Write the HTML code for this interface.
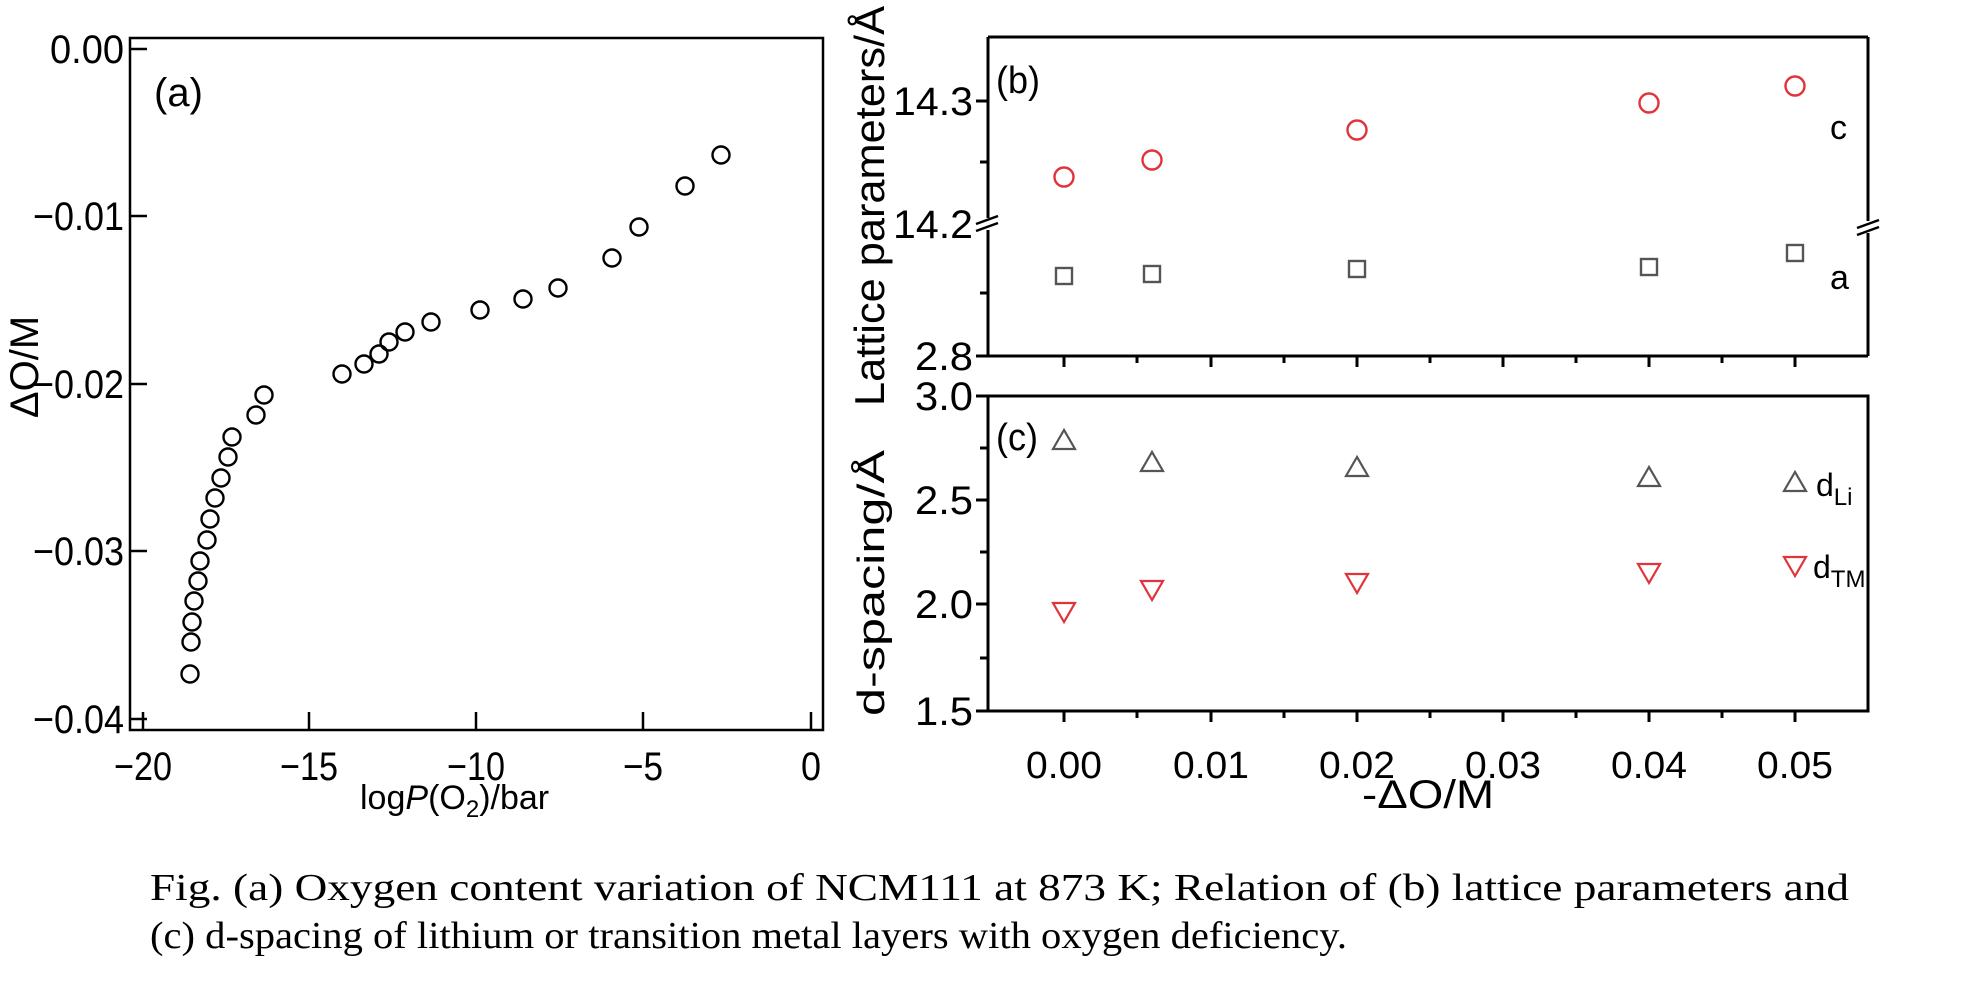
<!DOCTYPE html>
<html><head><meta charset="utf-8"><style>
html,body{margin:0;padding:0;background:#fff;}
svg{display:block;}
text{font-family:"Liberation Sans",sans-serif;}
</style></head><body>
<svg width="1986" height="989" viewBox="0 0 1986 989" xmlns="http://www.w3.org/2000/svg">
<!-- Panel a -->
<g stroke="#000" stroke-width="2.5" fill="none">
<rect x="130" y="38" width="693" height="692"/>
<line x1="130" y1="49" x2="147" y2="49"/>
<line x1="130" y1="216" x2="147" y2="216"/>
<line x1="130" y1="384" x2="147" y2="384"/>
<line x1="130" y1="551" x2="147" y2="551"/>
<line x1="130" y1="719" x2="147" y2="719"/>
<line x1="143" y1="730" x2="143" y2="712"/>
<line x1="309" y1="730" x2="309" y2="712"/>
<line x1="476" y1="730" x2="476" y2="712"/>
<line x1="643" y1="730" x2="643" y2="712"/>
<line x1="811" y1="730" x2="811" y2="712"/>
</g>
<g font-size="40" text-anchor="end" fill="#000">
<text x="124" y="63" textLength="74" lengthAdjust="spacingAndGlyphs">0.00</text>
<text x="124" y="230" textLength="91" lengthAdjust="spacingAndGlyphs">−0.01</text>
<text x="124" y="398" textLength="91" lengthAdjust="spacingAndGlyphs">−0.02</text>
<text x="124" y="565" textLength="91" lengthAdjust="spacingAndGlyphs">−0.03</text>
<text x="124" y="733" textLength="91" lengthAdjust="spacingAndGlyphs">−0.04</text>
</g>
<g font-size="40" text-anchor="middle" fill="#000">
<text x="143" y="780" textLength="58" lengthAdjust="spacingAndGlyphs">−20</text>
<text x="309" y="780" textLength="58" lengthAdjust="spacingAndGlyphs">−15</text>
<text x="476" y="780" textLength="58" lengthAdjust="spacingAndGlyphs">−10</text>
<text x="643" y="780" textLength="40" lengthAdjust="spacingAndGlyphs">−5</text>
<text x="811" y="780" textLength="20" lengthAdjust="spacingAndGlyphs">0</text>
</g>
<text x="154" y="106" font-size="40" fill="#000">(a)</text>
<text transform="translate(38,367) rotate(-90)" font-size="40" text-anchor="middle" fill="#000">ΔO/M</text>
<text x="360" y="809" font-size="34" fill="#000">log<tspan font-style="italic">P</tspan>(O<tspan font-size="24" dy="8">2</tspan><tspan dy="-8">)/bar</tspan></text>
<g stroke="#000" stroke-width="2.4" fill="none">
<circle cx="721" cy="155" r="8.5"/><circle cx="685" cy="186" r="8.5"/><circle cx="639" cy="227" r="8.5"/>
<circle cx="612" cy="258" r="8.5"/><circle cx="558" cy="288" r="8.5"/><circle cx="523" cy="299" r="8.5"/>
<circle cx="480" cy="310" r="8.5"/><circle cx="431" cy="322" r="8.5"/><circle cx="405" cy="332" r="8.5"/>
<circle cx="389" cy="342" r="8.5"/><circle cx="379" cy="354" r="8.5"/><circle cx="364" cy="364" r="8.5"/>
<circle cx="342" cy="374" r="8.5"/><circle cx="264" cy="395" r="8.5"/><circle cx="256" cy="415" r="8.5"/>
<circle cx="232" cy="437" r="8.5"/><circle cx="228" cy="457" r="8.5"/><circle cx="221" cy="478" r="8.5"/>
<circle cx="215" cy="498" r="8.5"/><circle cx="210" cy="519" r="8.5"/><circle cx="207" cy="540" r="8.5"/>
<circle cx="200" cy="561" r="8.5"/><circle cx="198" cy="581" r="8.5"/><circle cx="194" cy="601" r="8.5"/>
<circle cx="192" cy="622" r="8.5"/><circle cx="191" cy="642" r="8.5"/><circle cx="190" cy="674" r="8.5"/>
</g>

<!-- Panel b -->
<g stroke="#000" stroke-width="3" fill="none">
<line x1="988" y1="37" x2="1868" y2="37"/>
<line x1="988" y1="356" x2="1868" y2="356"/>
<line x1="988" y1="37" x2="988" y2="218"/>
<line x1="988" y1="230" x2="988" y2="356"/>
<line x1="1868" y1="37" x2="1868" y2="221"/>
<line x1="1868" y1="233" x2="1868" y2="356"/>
<line x1="976" y1="101" x2="988" y2="101"/>
<line x1="980" y1="162" x2="988" y2="162"/>
<line x1="980" y1="293" x2="988" y2="293"/>
<line x1="976" y1="356" x2="988" y2="356"/>
<g stroke-width="2.5">
<line x1="976" y1="224" x2="998" y2="216"/><line x1="976" y1="231" x2="998" y2="223"/>
<line x1="1857" y1="228" x2="1879" y2="220"/><line x1="1857" y1="235" x2="1879" y2="227"/>
</g>
<line x1="1064" y1="356" x2="1064" y2="367"/>
<line x1="1137" y1="356" x2="1137" y2="363"/>
<line x1="1211" y1="356" x2="1211" y2="367"/>
<line x1="1284" y1="356" x2="1284" y2="363"/>
<line x1="1357" y1="356" x2="1357" y2="367"/>
<line x1="1430" y1="356" x2="1430" y2="363"/>
<line x1="1503" y1="356" x2="1503" y2="367"/>
<line x1="1576" y1="356" x2="1576" y2="363"/>
<line x1="1649" y1="356" x2="1649" y2="367"/>
<line x1="1722" y1="356" x2="1722" y2="363"/>
<line x1="1795" y1="356" x2="1795" y2="367"/>
</g>
<g font-size="40" text-anchor="end" fill="#000">
<text x="973" y="115" textLength="80" lengthAdjust="spacingAndGlyphs">14.3</text>
<text x="973" y="238" textLength="80" lengthAdjust="spacingAndGlyphs">14.2</text>
<text x="973" y="370" textLength="58" lengthAdjust="spacingAndGlyphs">2.8</text>
</g>
<text x="996" y="93" font-size="38" fill="#000" textLength="44" lengthAdjust="spacingAndGlyphs">(b)</text>
<text x="1830" y="139" font-size="34" fill="#000">c</text>
<text x="1830" y="289" font-size="34" fill="#000">a</text>
<text transform="translate(884,206) rotate(-90)" font-size="42" text-anchor="middle" fill="#000" textLength="400" lengthAdjust="spacingAndGlyphs">Lattice parameters/Å</text>
<g stroke="#e0333a" stroke-width="2.4" fill="none">
<circle cx="1064" cy="177" r="9.5"/><circle cx="1152" cy="160" r="9.5"/><circle cx="1357" cy="130" r="9.5"/>
<circle cx="1649" cy="103" r="9.5"/><circle cx="1795" cy="86" r="9.5"/>
</g>
<g stroke="#555" stroke-width="2.4" fill="none">
<rect x="1056" y="268" width="16" height="16"/><rect x="1144" y="266" width="16" height="16"/>
<rect x="1349" y="261" width="16" height="16"/><rect x="1641" y="259" width="16" height="16"/>
<rect x="1787" y="245" width="16" height="16"/>
</g>

<!-- Panel c -->
<g stroke="#000" stroke-width="3" fill="none">
<rect x="988" y="396" width="880" height="315"/>
<line x1="976" y1="396" x2="988" y2="396"/>
<line x1="980" y1="448" x2="988" y2="448"/>
<line x1="976" y1="500" x2="988" y2="500"/>
<line x1="980" y1="552" x2="988" y2="552"/>
<line x1="976" y1="604" x2="988" y2="604"/>
<line x1="980" y1="658" x2="988" y2="658"/>
<line x1="976" y1="711" x2="988" y2="711"/>
<line x1="1064" y1="711" x2="1064" y2="722"/>
<line x1="1137" y1="711" x2="1137" y2="718"/>
<line x1="1211" y1="711" x2="1211" y2="722"/>
<line x1="1284" y1="711" x2="1284" y2="718"/>
<line x1="1357" y1="711" x2="1357" y2="722"/>
<line x1="1430" y1="711" x2="1430" y2="718"/>
<line x1="1503" y1="711" x2="1503" y2="722"/>
<line x1="1576" y1="711" x2="1576" y2="718"/>
<line x1="1649" y1="711" x2="1649" y2="722"/>
<line x1="1722" y1="711" x2="1722" y2="718"/>
<line x1="1795" y1="711" x2="1795" y2="722"/>
</g>
<g font-size="40" text-anchor="end" fill="#000">
<text x="973" y="410" textLength="58" lengthAdjust="spacingAndGlyphs">3.0</text>
<text x="973" y="514" textLength="58" lengthAdjust="spacingAndGlyphs">2.5</text>
<text x="973" y="618" textLength="58" lengthAdjust="spacingAndGlyphs">2.0</text>
<text x="973" y="725" textLength="58" lengthAdjust="spacingAndGlyphs">1.5</text>
</g>
<g font-size="38" text-anchor="middle" fill="#000">
<text x="1064" y="778" textLength="76" lengthAdjust="spacingAndGlyphs">0.00</text>
<text x="1211" y="778" textLength="76" lengthAdjust="spacingAndGlyphs">0.01</text>
<text x="1357" y="778" textLength="76" lengthAdjust="spacingAndGlyphs">0.02</text>
<text x="1503" y="778" textLength="76" lengthAdjust="spacingAndGlyphs">0.03</text>
<text x="1649" y="778" textLength="76" lengthAdjust="spacingAndGlyphs">0.04</text>
<text x="1795" y="778" textLength="76" lengthAdjust="spacingAndGlyphs">0.05</text>
</g>
<text x="1428" y="808" font-size="40" text-anchor="middle" fill="#000" textLength="132" lengthAdjust="spacingAndGlyphs">-ΔO/M</text>
<text x="996" y="450" font-size="38" fill="#000" textLength="42" lengthAdjust="spacingAndGlyphs">(c)</text>
<text transform="translate(884,583) rotate(-90)" font-size="38" text-anchor="middle" fill="#000" textLength="266" lengthAdjust="spacingAndGlyphs">d-spacing/Å</text>
<g stroke="#555" stroke-width="2.2" fill="none">
<polygon points="1064,430 1053,449 1075,449"/><polygon points="1152,452 1141,471 1163,471"/>
<polygon points="1357,457 1346,476 1368,476"/><polygon points="1649,467 1638,486 1660,486"/>
<polygon points="1795,472 1784,491 1806,491"/>
</g>
<g stroke="#e0333a" stroke-width="2.2" fill="none">
<polygon points="1064,622 1053,603 1075,603"/><polygon points="1152,600 1141,581 1163,581"/>
<polygon points="1357,593 1346,574 1368,574"/><polygon points="1649,583 1638,564 1660,564"/>
<polygon points="1795,576 1784,557 1806,557"/>
</g>
<text x="1816" y="496" font-size="32" fill="#000">d<tspan font-size="24" dy="9">Li</tspan></text>
<text x="1813" y="578" font-size="32" fill="#000">d<tspan font-size="24" dy="9">TM</tspan></text>

<!-- Caption -->
<g font-size="38" fill="#000">
<text x="150" y="900" style="font-family:'Liberation Serif',serif" textLength="1699" lengthAdjust="spacingAndGlyphs">Fig. (a) Oxygen content variation of NCM111 at 873 K; Relation of (b) lattice parameters and</text>
<text x="150" y="948" style="font-family:'Liberation Serif',serif" textLength="1197" lengthAdjust="spacingAndGlyphs">(c) d-spacing of lithium or transition metal layers with oxygen deficiency.</text>
</g>
</svg>
</body></html>
